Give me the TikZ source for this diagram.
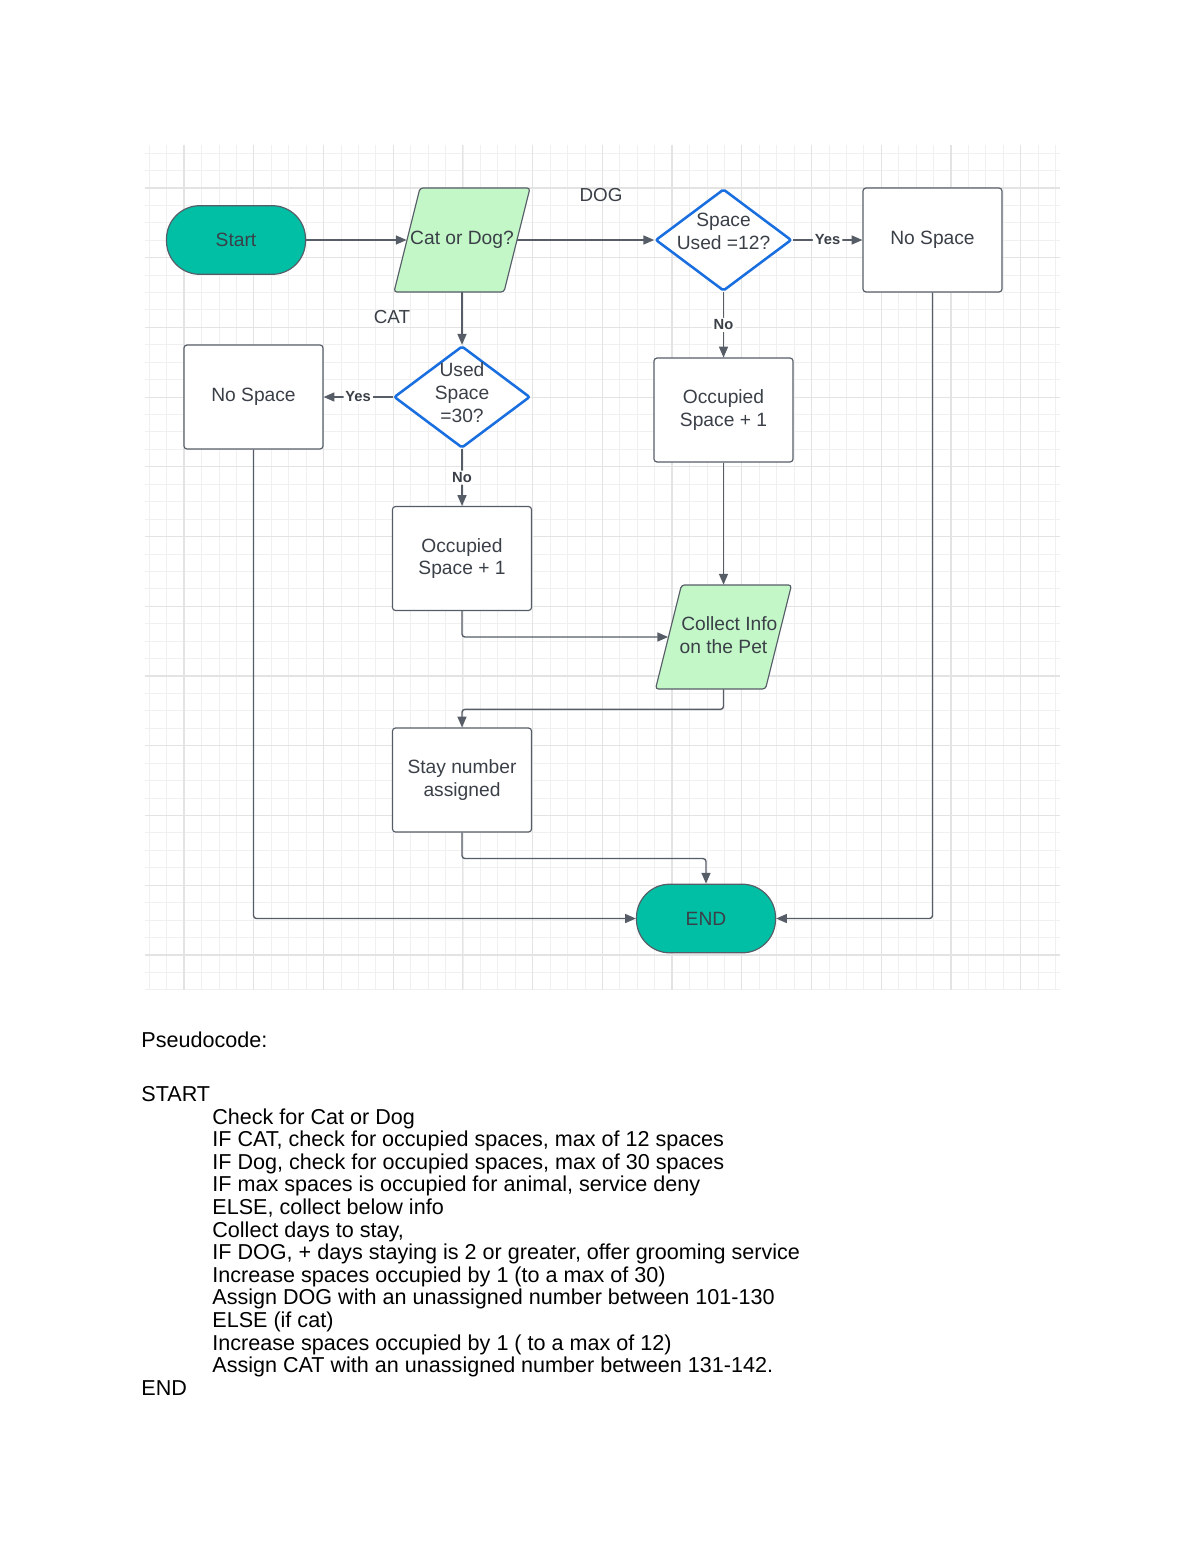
\documentclass[tikz,border=0pt]{standalone}
\usepackage{fontspec}
\setmainfont{Liberation Sans}
\usetikzlibrary{shapes.geometric,arrows.meta}
\definecolor{termfill}{HTML}{00BFA5}
\definecolor{iofill}{HTML}{C3F7C8}
\definecolor{decblue}{HTML}{1A6FE0}
\definecolor{inkgray}{HTML}{3B4048}
\definecolor{edgegray}{HTML}{575D67}
\newcommand{\dtext}[1]{\makebox[0pt]{\smash{\begin{tabular}{@{}c@{}}#1\end{tabular}}}}

\begin{document}
\begin{tikzpicture}[x=0.51pt,y=-0.51pt,
	chart/.style={font=\fontsize{9.8}{11.7}\selectfont,text=inkgray,align=center},
	terminal/.style={chart,draw=edgegray,fill=termfill,line width=0.6pt,rounded corners=17pt,minimum width=70.9pt,minimum height=35pt,inner sep=0pt},
	proc/.style={chart,draw=edgegray,fill=white,line width=0.6pt,rounded corners=1.5pt,minimum width=70.9pt,minimum height=53pt,inner sep=0pt},
	io/.style={draw=edgegray,fill=iofill,line width=0.6pt,rounded corners=1.5pt},
	iotext/.style={chart,minimum width=56.1pt,minimum height=53pt,inner sep=0pt},
	decision/.style={chart,diamond,draw=decblue,fill=white,line width=1.3pt,minimum width=69.4pt,minimum height=52pt,inner sep=0pt,rounded corners=1pt},
	flow/.style={draw=edgegray,line width=0.7pt,rounded corners=1.5pt,-{Triangle[length=5.5pt,width=4.6pt]}},
	yn/.style={font=\bfseries\fontsize{7.5}{8}\selectfont,text=inkgray,fill=white,inner sep=1pt},
	branch/.style={font=\fontsize{9.6}{11}\selectfont,text=inkgray},
	code/.style={font=\fontsize{11}{13}\selectfont,anchor=base west,inner sep=0pt},
	gridminor/.style={draw=black!6,line width=0.5pt},
	gridmajor/.style={draw=black!11,line width=0.6pt}]
	\fill[white] (0,0) rectangle (1200,1553);
	\useasboundingbox (0,0) rectangle (1200,1553);
	% grid
	\foreach \i in {0,...,52} \draw[gridminor] ({149.3+17.43*\i},145) -- ++(0,845);
	\foreach \i in {0,...,48} \draw[gridminor] (145,{153.1+17.43*\i}) -- ++(915,0);
	\foreach \i in {0,...,12} \draw[gridmajor] ({184+69.72*\i},145) -- ++(0,845);
	\foreach \i in {0,...,11} \draw[gridmajor] (145,{188+69.72*\i}) -- ++(915,0);
	% parallelograms
	\foreach \cx/\cy in {462/240,723.5/637} \draw[io] (\cx-42,\cy-52) -- (\cx+68,\cy-52) -- (\cx+42,\cy+52) -- (\cx-68,\cy+52) -- cycle;
	% nodes
	\node[terminal] (start) at (236,240) {Start};
	\node[iotext] (cod) at (462,240) {Cat or Dog?};
	\node[decision] (dogq) at (723.5,240) {\raisebox{2.2pt}{\dtext{Space\\Used =12?}}};
	\node[proc] (nsr) at (932.5,240) {No Space};
	\node[proc] (occr) at (723.5,410) {Occupied\\Space + 1};
	\node[iotext] (ci) at (723.5,637) {\raisebox{1.5pt}{\begin{tabular}{@{}c@{}}\hspace*{6pt}Collect Info\\on the Pet\end{tabular}}};
	\node[decision] (catq) at (462,397) {\raisebox{-2.5pt}{\dtext{Used\\Space\\=30?}}};
	\node[proc] (nsl) at (253.5,397) {No Space};
	\node[proc] (occl) at (462,558.5) {Occupied\\Space + 1};
	\node[proc] (stay) at (462,780) {Stay number\\assigned};
	\node[terminal] (end) at (706,918.5) {END};
	\node[branch] (doglbl) at (601,195) {DOG};
	\node[branch] (catlbl) at (392,317) {CAT};
	% connectors
	\draw[flow] (start.east) -- (cod.west);
	\draw[flow] (cod.east) -- (dogq.west);
	\draw[flow] (dogq.east) -- node[yn]{Yes} (nsr.west);
	\draw[flow] (dogq.south) -- node[yn]{No} (occr.north);
	\draw[flow] (occr.south) -- (ci.north);
	\draw[flow] (cod.south) -- (catq.north);
	\draw[flow] (catq.west) -- node[yn]{Yes} (nsl.east);
	\draw[flow] (catq.south) -- node[yn]{No} (occl.north);
	\draw[flow] (occl.south) |- (ci.west);
	\draw[flow] (ci.south) -- ++(0,20) -| (stay.north);
	\draw[flow] (stay.south) -- ++(0,26) -| (end.north);
	\draw[flow] (nsl.south) |- (end.west);
	\draw[flow] (nsr.south) |- (end.east);
	% pseudocode
	\node[code] (pchead) at (141,1047) {Pseudocode:};
	\node[code] (pcstart) at (141,1101) {START};
	\foreach \txt [count=\i] in {{Check for Cat or Dog},{IF CAT, check for occupied spaces, max of 12 spaces},{IF Dog, check for occupied spaces, max of 30 spaces},{IF max spaces is occupied for animal, service deny},{ELSE, collect below info},{Collect days to stay,},{IF DOG, + days staying is 2 or greater, offer grooming service},{Increase spaces occupied by 1 (to a max of 30)},{Assign DOG with an unassigned number between 101-130},{ELSE (if cat)},{Increase spaces occupied by 1 ( to a max of 12)},{Assign CAT with an unassigned number between 131-142.}}
		\node[code] (pc-\i) at (212,{1101.4+22.6*\i}) {\txt};
	\node[code] (pcend) at (141,1395) {END};
\end{tikzpicture}
\end{document}
